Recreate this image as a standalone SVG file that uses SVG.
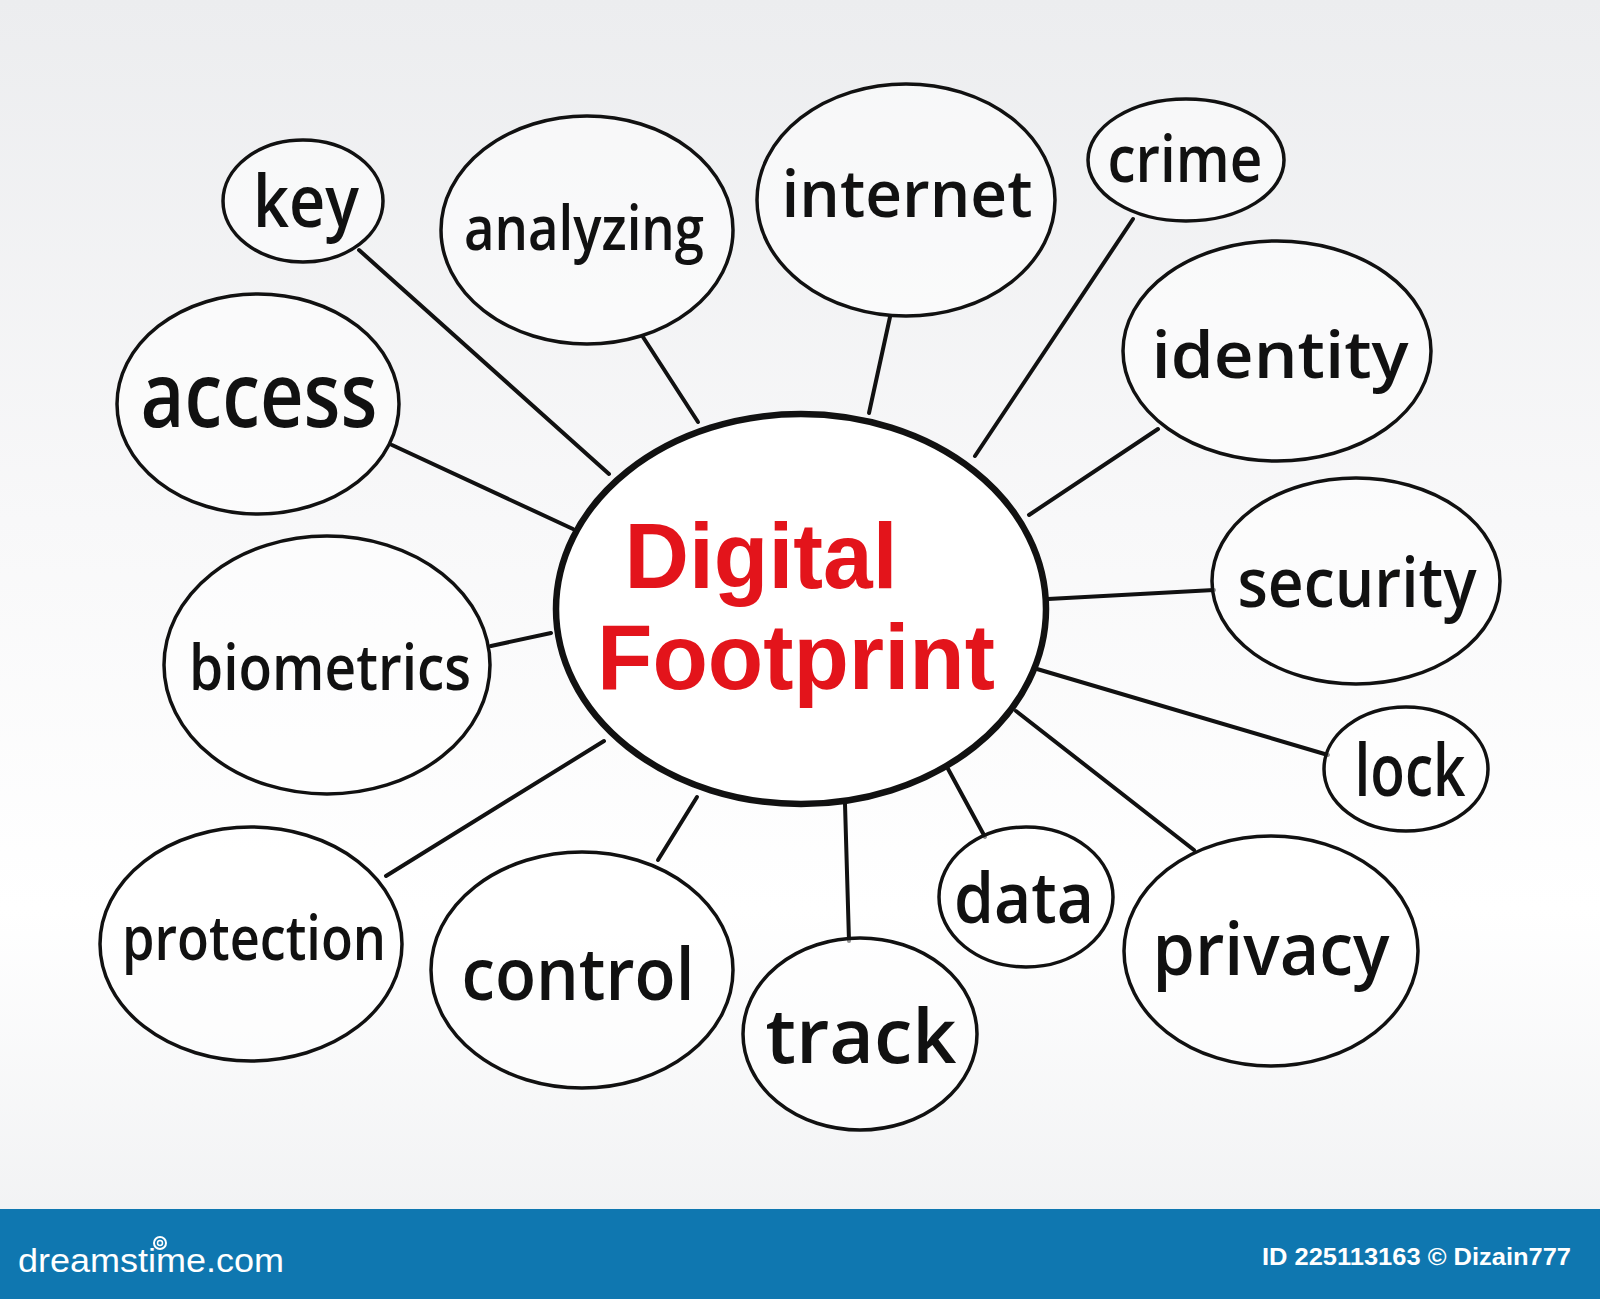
<svg xmlns="http://www.w3.org/2000/svg" width="1600" height="1299" viewBox="0 0 1600 1299">
<defs>
<linearGradient id="bg" x1="0" y1="0" x2="0" y2="1">
<stop offset="0" stop-color="#ecedef"/>
<stop offset="0.4" stop-color="#f8f8f9"/>
<stop offset="0.7" stop-color="#ffffff"/>
<stop offset="1" stop-color="#eeeff1"/>
</linearGradient>
<style>
.n{fill:#ffffff;fill-opacity:0.55;stroke:#111;stroke-width:3.5}
.c{fill:#ffffff;stroke:#111;stroke-width:6.5}
.l{stroke:#111;stroke-width:4;stroke-linecap:round;fill:none}
.t{font-family:"Open Sans","DejaVu Sans",sans-serif;font-weight:600;fill:#111;text-anchor:middle}
.r{font-family:"Liberation Sans","Arial",sans-serif;font-weight:bold;fill:#e3141b;text-anchor:middle}
.w{font-family:"Liberation Sans","DejaVu Sans",sans-serif;fill:#ffffff}
</style>
</defs>
<rect x="0" y="0" width="1600" height="1299" fill="url(#bg)"/>
<g id="connectors">
<line class="l" x1="359" y1="250" x2="609" y2="474"/>
<line class="l" x1="643" y1="337" x2="698" y2="422"/>
<line class="l" x1="890" y1="317" x2="869" y2="413"/>
<line class="l" x1="1133" y1="219" x2="975" y2="456"/>
<line class="l" x1="1158" y1="429" x2="1029" y2="515"/>
<line class="l" x1="392" y1="445" x2="573" y2="529"/>
<line class="l" x1="1214" y1="590" x2="1048" y2="599"/>
<line class="l" x1="491" y1="646" x2="551" y2="633"/>
<line class="l" x1="1328" y1="755" x2="1037" y2="669"/>
<line class="l" x1="386" y1="876" x2="604" y2="741"/>
<line class="l" x1="658" y1="860" x2="697" y2="797"/>
<line class="l" x1="849" y1="941" x2="845" y2="804"/>
<line class="l" x1="985" y1="837" x2="947" y2="767"/>
<line class="l" x1="1194" y1="850" x2="1016" y2="711"/>
</g>
<g id="center">
<ellipse class="c" cx="801" cy="609" rx="245" ry="195"/>
<text class="r" x="761" y="588" font-size="92" textLength="273" lengthAdjust="spacingAndGlyphs">Digital</text>
<text class="r" x="796" y="689" font-size="92" textLength="398" lengthAdjust="spacingAndGlyphs">Footprint</text>
</g>
<g id="key"><ellipse class="n" cx="303" cy="201" rx="80" ry="61"/><text class="t" x="306" y="227" font-size="72" textLength="106" lengthAdjust="spacingAndGlyphs">key</text></g>
<g id="analyzing"><ellipse class="n" cx="587" cy="230" rx="146" ry="114"/><text class="t" x="584" y="250" font-size="62" textLength="240" lengthAdjust="spacingAndGlyphs">analyzing</text></g>
<g id="internet"><ellipse class="n" cx="906" cy="200" rx="149" ry="116"/><text class="t" x="907" y="217" font-size="66" textLength="251" lengthAdjust="spacingAndGlyphs">internet</text></g>
<g id="crime"><ellipse class="n" cx="1186" cy="160" rx="98" ry="61"/><text class="t" x="1185" y="182" font-size="66" textLength="155" lengthAdjust="spacingAndGlyphs">crime</text></g>
<g id="identity"><ellipse class="n" cx="1277" cy="351" rx="154" ry="110"/><text class="t" x="1280" y="378" font-size="66" textLength="257" lengthAdjust="spacingAndGlyphs">identity</text></g>
<g id="access"><ellipse class="n" cx="258" cy="404" rx="141" ry="110"/><text class="t" x="259" y="427" font-size="90" textLength="237" lengthAdjust="spacingAndGlyphs">access</text></g>
<g id="security"><ellipse class="n" cx="1356" cy="581" rx="144" ry="103"/><text class="t" x="1357" y="607" font-size="68" textLength="239" lengthAdjust="spacingAndGlyphs">security</text></g>
<g id="biometrics"><ellipse class="n" cx="327" cy="665" rx="163" ry="129"/><text class="t" x="330" y="690" font-size="64" textLength="282" lengthAdjust="spacingAndGlyphs">biometrics</text></g>
<g id="lock"><ellipse class="n" cx="1406" cy="769" rx="82" ry="62"/><text class="t" x="1410" y="796" font-size="72" textLength="111" lengthAdjust="spacingAndGlyphs">lock</text></g>
<g id="protection"><ellipse class="n" cx="251" cy="944" rx="151" ry="117"/><text class="t" x="254" y="960" font-size="62" textLength="264" lengthAdjust="spacingAndGlyphs">protection</text></g>
<g id="control"><ellipse class="n" cx="582" cy="970" rx="151" ry="118"/><text class="t" x="578" y="1000" font-size="72" textLength="233" lengthAdjust="spacingAndGlyphs">control</text></g>
<g id="track"><ellipse class="n" cx="860" cy="1034" rx="117" ry="96"/><text class="t" x="861" y="1063" font-size="76" textLength="191" lengthAdjust="spacingAndGlyphs">track</text></g>
<g id="data"><ellipse class="n" cx="1026" cy="897" rx="87" ry="70"/><text class="t" x="1024" y="923" font-size="70" textLength="140" lengthAdjust="spacingAndGlyphs">data</text></g>
<g id="privacy"><ellipse class="n" cx="1271" cy="951" rx="147" ry="115"/><text class="t" x="1271" y="975" font-size="72" textLength="237" lengthAdjust="spacingAndGlyphs">privacy</text></g>
<g id="footer">
<rect x="0" y="1209" width="1600" height="90" fill="#0f77b0"/>
<circle cx="160" cy="1243" r="6" fill="none" stroke="#ffffff" stroke-width="2"/>
<circle cx="160" cy="1243" r="2.5" fill="none" stroke="#ffffff" stroke-width="1.5"/>
<text class="w" x="18" y="1272" font-size="34" textLength="266" lengthAdjust="spacingAndGlyphs">dreamstime.com</text>
<text class="w" x="1262" y="1265" font-size="23" font-weight="bold" textLength="309" lengthAdjust="spacingAndGlyphs">ID 225113163 © Dizain777</text>
</g>
</svg>
